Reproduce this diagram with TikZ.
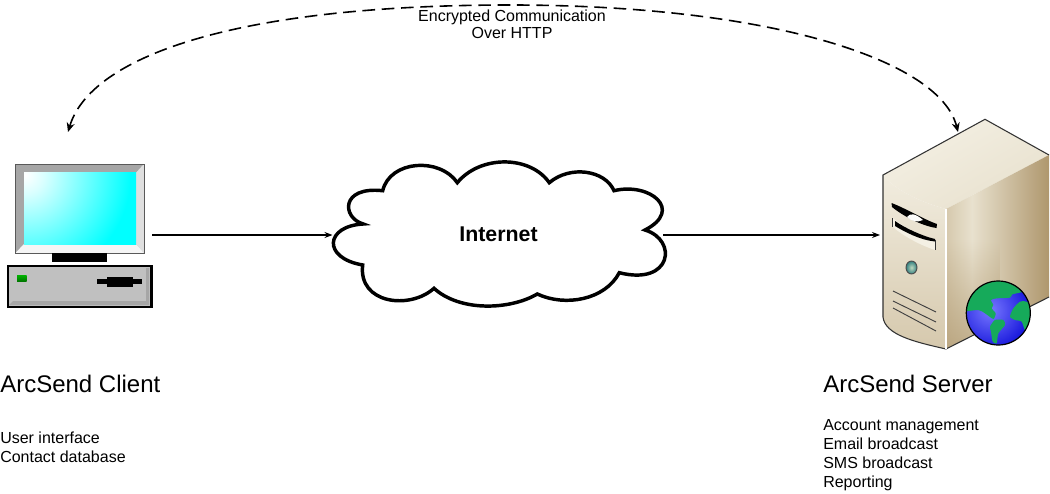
\documentclass[tikz,border=0pt]{standalone}
\usepackage{fontspec}
\setmainfont{Liberation Sans}
\usetikzlibrary{arrows.meta,fadings}
\definecolor{beigeA}{RGB}{244,240,228}
\definecolor{beigeB}{RGB}{218,206,180}
\definecolor{beigeC}{RGB}{174,150,108}
\definecolor{beigeD}{RGB}{232,225,206}
\definecolor{gbox}{RGB}{192,192,192}
\definecolor{landgreen}{RGB}{22,170,90}
\definecolor{screencol}{RGB}{0,255,255}
\definecolor{bluedeep}{RGB}{10,10,215}
\definecolor{bluepale}{RGB}{120,120,255}
\pgfdeclareradialshading{screenglow}{\pgfpoint{0bp}{0bp}}{rgb(0bp)=(1,1,1); rgb(4bp)=(0.85,1,1); rgb(22bp)=(0,1,1); rgb(50bp)=(0,1,1)}
\tikzset{
 x=0.75pt,y=-0.75pt,
 big/.style={inner sep=0,anchor=base west,font=\fontsize{18pt}{22pt}\selectfont},
 small/.style={inner sep=0,anchor=base west,font=\fontsize{12pt}{15pt}\selectfont},
 link/.style={-{Stealth[length=6pt,width=4.5pt]},line width=0.8pt},
 secure/.style={{Stealth[length=7pt,width=6pt]}-{Stealth[length=7pt,width=6pt]},line width=1.2pt,dash pattern=on 9.5pt off 5pt},
 land/.style={fill=landgreen,draw=none},
}
\begin{document}
\begin{tikzpicture}
\useasboundingbox (0,0) rectangle (1050,493);
\fill[white] (0,0) rectangle (1050,493);
% monitor
\fill[gbox] (15.5,164) rectangle (144,253);
\fill[gray!70] (15.5,164) -- (144,164) -- (136,172.7) -- (24,172.7) -- (24,244) -- (15.5,253) -- cycle;
\fill[white!92!gray] (15.5,253) -- (24,244) -- (136,244) -- (144,253) -- cycle;
\fill[white!75!gray] (144,164) -- (136,172.7) -- (136,244) -- (144,253) -- cycle;
\draw[black!65,line width=0.6pt] (15.5,164) rectangle (144,253);
\begin{scope}
\clip (24,172.7) rectangle (136,244);
\shade[shading=screenglow] (-95,55) rectangle (145,295);
\end{scope}
\fill[black] (52,253) rectangle (107,262);
% base unit
\fill[gbox] (8,266) rectangle (151.5,307);
\fill[gray!70] (9,305) -- (13,301) -- (146,301) -- (146,268) -- (149,268) -- (149,305) -- cycle;
\draw[black,line width=1.8pt] (8,266) rectangle (151.5,307);
\shade[top color=green!70!black,bottom color=green!45!black] (17,275) rectangle (26.7,281.7);
\fill[black] (97,279) rectangle (142,284);
\fill[black] (106.7,277) rectangle (132.7,286.5);
\coordinate (clientOut) at (152,235);
% cloud
\coordinate (cloudIn) at (332.5,235);
\coordinate (cloudOut) at (663,235);
\draw[fill=white,line width=2.6pt,line join=miter]
 (363.3,224) .. controls (342,218) and (340,186) .. (382.7,190.7)
 .. controls (390,160) and (440,157) .. (457.3,182.7)
 .. controls (480,155) and (530,155) .. (549.3,182.7)
 .. controls (570,165) and (605,170) .. (614,190.7)
 .. controls (650,182) and (684,210) .. (645,230)
 .. controls (678,240) and (672,286) .. (619.3,272.7)
 .. controls (605,300) and (565,307) .. (537.3,294)
 .. controls (510,310) and (460,312) .. (434,288.3)
 .. controls (410,310) and (358,304) .. (362.7,265)
 .. controls (322,258) and (325,226) .. (363.3,224) -- cycle;
\node[font=\fontsize{16pt}{18pt}\selectfont\bfseries,inner sep=0] (internet) at (498.5,234) {Internet};
% server
\coordinate (serverIn) at (880,235);
\coordinate (serverTop) at (958,132);
\shade[left color=beigeA,right color=beigeD,shading angle=30] (883,175) -- (985,119.3) -- (1049,155) -- (946,209) .. controls (920,202) and (895,190) .. (883,175) -- cycle;
\begin{scope}
\clip (946,209) -- (1049,155) -- (1049,297) -- (946,349) -- cycle;
\shade[left color=beigeB!90!beigeC,right color=beigeD] (946,130) rectangle (972,360);
\shade[left color=beigeD,right color=beigeC] (972,130) rectangle (1050,360);
\fill[beigeC,opacity=0.7,path fading=north] (946,240) rectangle (1000,352);
\end{scope}
\shade[top color=beigeA!90!beigeB,bottom color=beigeB!90!beigeC] (883,175) .. controls (895,190) and (920,202) .. (946,209) -- (946,349) .. controls (915,342) and (885,335) .. (883,317) -- cycle;
\draw[line width=0.8pt,black!80] (883,317) -- (883,175) -- (985,119.3) -- (1049,155);
\draw[line width=0.8pt,black!80] (883,317) .. controls (885,335) and (915,342) .. (946,349) -- (1049,297);
\draw[white,line width=0.8pt] (946,209) -- (946,349);
% server front details
\fill[black] (891.5,203) .. controls (905,208) and (925,220) .. (937,224) -- (936.5,228) .. controls (922,226) and (903,216) .. (892,207) -- cycle;
\fill[white!85!beigeA] (907,217) .. controls (910,213) and (915,213) .. (923,220) .. controls (917,223) and (911,221) .. (907,217) -- cycle;
\fill[beigeA] (892.7,218) .. controls (905,228) and (922,236) .. (935,240) -- (935,250) .. controls (920,245) and (905,237) .. (892.7,227) -- cycle;
\fill[black] (895,221) .. controls (905,228) and (922,236) .. (935,239) -- (935,241.5) .. controls (920,240) and (905,232) .. (895,226) -- cycle;
\draw[black!80,line width=0.7pt] (892.7,218) -- (892.7,227) (935,240) -- (935,250);
\shade[draw=black!70,line width=0.7pt,inner color=green!25!gray!40,outer color=teal!60!gray] (911.5,267.5) circle[x radius=5.5,y radius=6.5];
\draw[black!75,line width=0.7pt] (893,291) -- (936,312) (893,301) -- (936,322) (893,308) -- (936,331);
% globe
\begin{scope}
\clip (998.3,313) circle[radius=32];
\fill[bluedeep] (966,281) rectangle (1031,345);
\shade[inner color=bluepale,outer color=bluedeep,shading=radial] (945,265) rectangle (1035,355);
\begin{scope}[shift={(955,275)},x=.25pt,y=-.25pt]
\fill[land] plot[smooth cycle,tension=.4] coordinates {(88,15) (55,30) (20,80) (25,108) (70,105) (90,115) (115,132) (122,115) (110,100) (115,90) (108,75) (125,70) (165,68) (172,58) (205,48) (165,15) (125,10)};
\fill[land] plot[smooth cycle,tension=.4] coordinates {(105,155) (120,135) (145,135) (150,150) (130,175) (125,205) (113,200) (108,170)};
\fill[land] plot[smooth cycle,tension=.4] coordinates {(240,105) (215,80) (195,80) (175,100) (165,125) (180,135) (200,140) (212,170) (235,160)};
\end{scope}
\end{scope}
\draw[black,line width=0.9pt] (998.3,313) circle[radius=32];
% connectors
\draw[link] (clientOut) -- (cloudIn);
\draw[link] (cloudOut) -- (serverIn);
\coordinate (clientTop) at (68,132);
\coordinate (archTop) at (510,5);
\draw[secure] (clientTop) .. controls (90,58) and (230,5) .. (archTop) .. controls (770,5) and (940,60) .. (serverTop);
% texts
\node[small,anchor=base] (enc) at (512,21) {Encrypted Communication};
\node[small,anchor=base] (over) at (512,38) {Over HTTP};
\node[big] (cl) at (0,392) {ArcSend Client};
\node[small] (c1) at (0,443) {User interface};
\node[small] (c2) at (0,462) {Contact database};
\node[big] (sv) at (823,392) {ArcSend Server};
\node[small] (s1) at (823,430) {Account management};
\node[small] (s2) at (823,449) {Email broadcast};
\node[small] (s3) at (823,468) {SMS broadcast};
\node[small] (s4) at (823,487) {Reporting};
\end{tikzpicture}
\end{document}
